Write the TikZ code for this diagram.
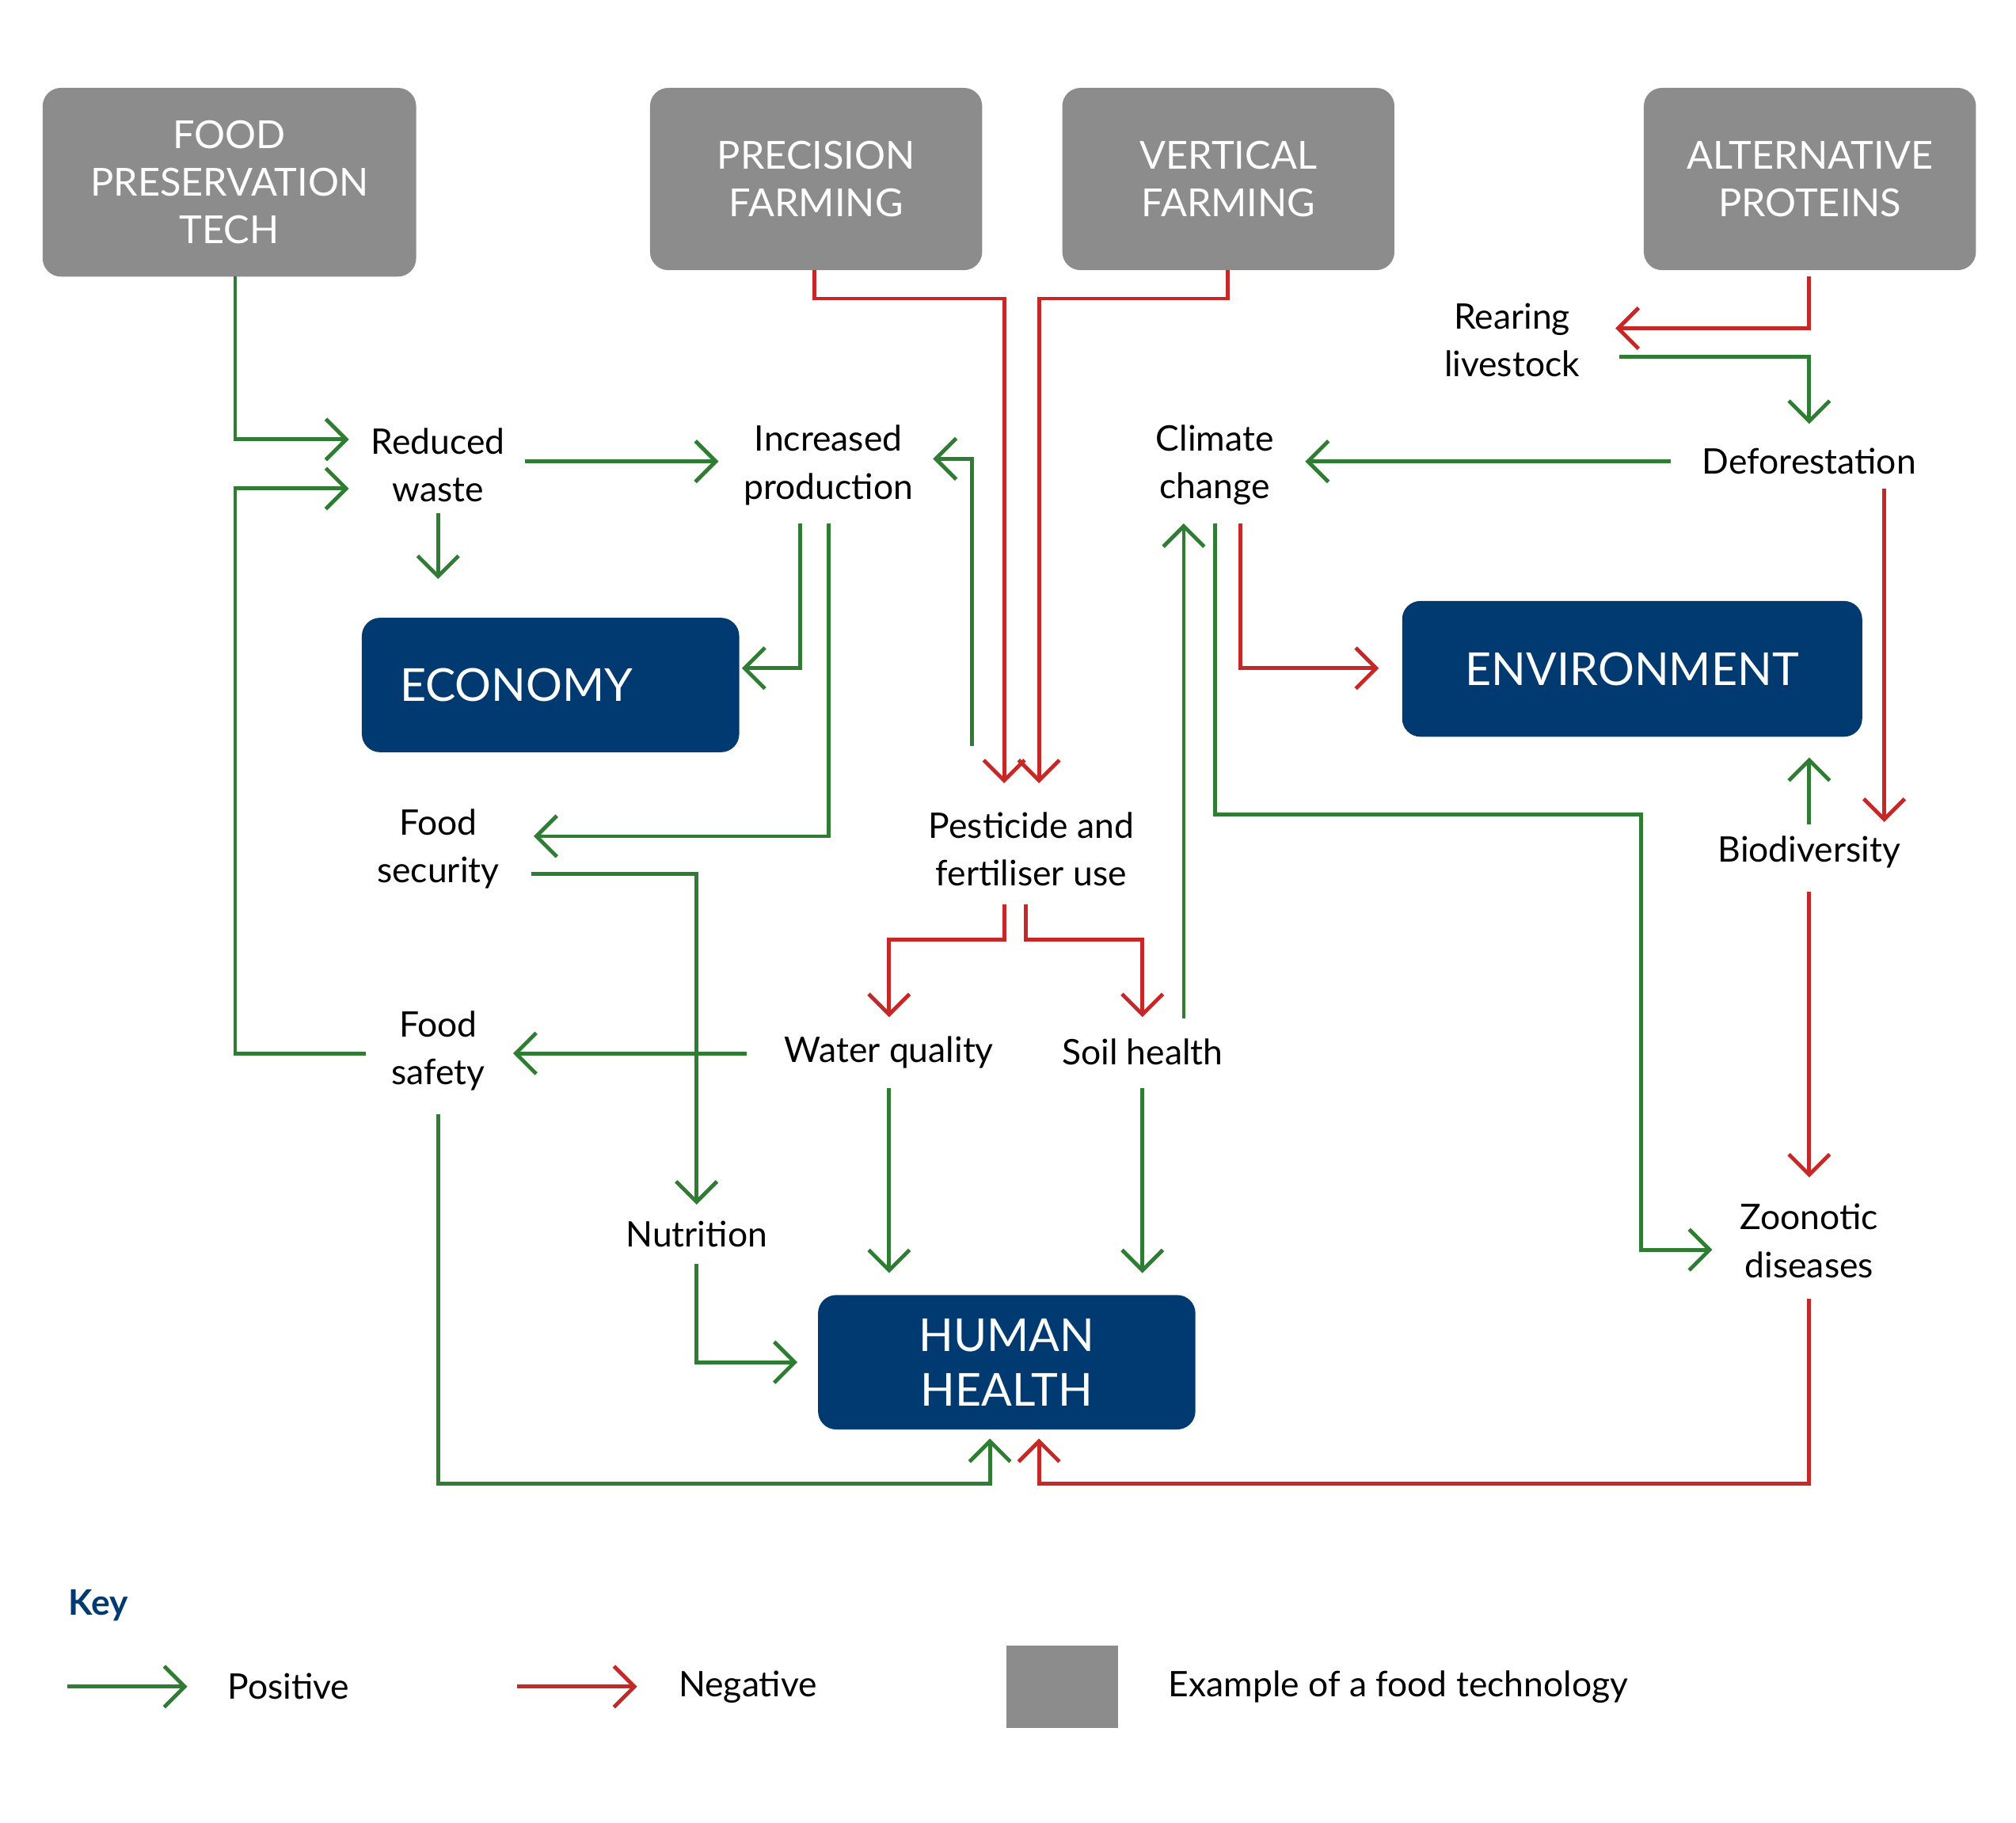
\documentclass[tikz,border=0pt]{standalone}
\usepackage{fontspec}
\setmainfont{Lato}
\usetikzlibrary{arrows.meta}
\definecolor{pos}{HTML}{2E7D32}
\definecolor{neg}{HTML}{C62828}
\definecolor{navy}{HTML}{003A70}
\definecolor{tech}{HTML}{8C8C8C}
\begin{document}
\begin{tikzpicture}[x=0.02cm,y=-0.02cm,
  tip/.style={-{Straight Barb[length=9pt,width=18pt,line width=1.7pt]}},
  g/.style={draw=pos,line width=1.7pt,tip},
  r/.style={draw=neg,line width=1.7pt,tip},
  techbox/.style={fill=tech,rounded corners=8pt,text=white,align=center,font=\fontsize{17}{21}\selectfont},
  dombox/.style={fill=navy,rounded corners=8pt,text=white,align=center,font=\fontsize{20}{24}\selectfont},
  lab/.style={align=center,font=\fontsize{15.5}{21}\selectfont}]
\useasboundingbox (0,0) rectangle (1560,1410);
% tech boxes
\path[techbox] (33,68) rectangle (322,214) node[midway] (fpt) {FOOD\\PRESERVATION\\TECH};
\path[techbox] (503,68) rectangle (760,209) node[midway] (pf) {PRECISION\\FARMING};
\path[techbox] (822,68) rectangle (1079,209) node[midway] (vf) {VERTICAL\\FARMING};
\path[techbox] (1272,68) rectangle (1529,209) node[midway] (ap) {ALTERNATIVE\\PROTEINS};
% domain boxes
\path[dombox] (280,478) rectangle (572,582) node[midway,xshift=-15] (eco) {ECONOMY};
\path[dombox] (1085,465) rectangle (1441,570) node[midway] (env) {ENVIRONMENT};
\path[dombox] (633,1002) rectangle (925,1106) node[midway] (hh) {HUMAN\\HEALTH};
% labels
\node[lab] (rw) at (339,360) {Reduced\\waste};
\node[lab] (ip) at (641,360) {Increased\\production};
\node[lab] (cc) at (940,360) {Climate\\change};
\node[lab] (df) at (1400,357) {Deforestation};
\node[lab] (rl) at (1170,263) {Rearing\\livestock};
\node[lab] (fs) at (339,657) {Food\\security};
\node[lab] (pfu) at (798,657) {Pesticide and\\fertiliser use};
\node[lab] (bd) at (1400,659) {Biodiversity};
\node[lab] (fsa) at (339,813) {Food\\safety};
\node[lab] (wq) at (688,814) {Water quality};
\node[lab] (sh) at (884,814) {Soil health};
\node[lab] (nu) at (539,955) {Nutrition};
\node[lab] (zd) at (1400,960) {Zoonotic\\diseases};
% connectors
\draw[g] (182,214) |- (270,340);
\draw[g] (283,815) -- (182,815) |- (270,378);
\draw[g] (406,357) -- (556,357);
\draw[g] (339,397) -- (339,448);
\draw[g] (619,405) |- (574,517);
\draw[g] (641,405) |- (413,647);
\draw[g] (411,676) -| (539,932);
\draw[g] (578,815) -- (397,815);
\draw[g] (339,862) |- (766,1148) -- (766,1113);
\draw[g] (539,978) |- (617,1054);
\draw[g] (688,842) -- (688,985);
\draw[g] (884,842) -- (884,985);
\draw[g] (752,577) |- (722,355);
\draw[r] (630,209) |- (777,231) -- (777,606);
\draw[r] (950,209) |- (804,231) -- (804,606);
\draw[r] (777,700) |- (688,727) -- (688,787);
\draw[r] (794,700) |- (884,727) -- (884,787);
\draw[g] (916,788) -- (916,405);
\draw[g] (940,405) |- (1270,630) |- (1325,967);
\draw[r] (960,405) |- (1067,517);
\draw[g] (1293,357) -- (1010,357);
\draw[r] (1400,214) |- (1250,254);
\draw[g] (1253,276) -| (1400,328);
\draw[r] (1458,378) -- (1458,636);
\draw[g] (1400,638) -- (1400,586);
\draw[r] (1400,690) -- (1400,911);
\draw[r] (1400,1005) |- (804,1148) -- (804,1113);
% key
\node[anchor=west,text=navy,font=\bfseries\fontsize{15.5}{19}\selectfont] (key) at (47,1242) {Key};
\draw[g] (52,1305) -- (145,1305);
\node[lab,anchor=west] (kp) at (170,1305) {Positive};
\draw[r] (400,1305) -- (493,1305);
\node[lab,anchor=west] (kn) at (519,1305) {Negative};
\fill[tech] (779,1273) rectangle (865,1337);
\node[lab,anchor=west] (kt) at (898,1305) {Example of a food technology};
\end{tikzpicture}
\end{document}
